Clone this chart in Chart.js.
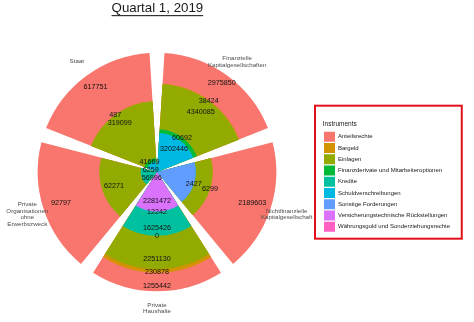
<!DOCTYPE html>
<html lang="de">
<head>
<meta charset="UTF-8">
<title>Quartal 1, 2019</title>
<script src="https://cdn.jsdelivr.net/npm/chart.js"></script>
<style>
  html, body { margin: 0; padding: 0; background: #fff; overflow: hidden; }
  /* Zeichenfläche etwas breiter, damit der Kreis links von der Legende sitzt */
  #chart { display: block; margin-left: -8px; }
</style>
</head>
<body>
<canvas id="chart" width="482" height="322"></canvas>
<script>
const titel = "Quartal 1, 2019";

const instrumente = [
  "Anteilsrechte",
  "Bargeld",
  "Einlagen",
  "Finanzderivate und Mitarbeiteroptionen",
  "Kredite",
  "Schuldverschreibungen",
  "Sonstige Forderungen",
  "Versicherungstechnische Rückstellungen",
  "Währungsgold und Sonderziehungsrechte"
];
const farben = ["#F8766D", "#D39200", "#93AA00", "#00BA38", "#00C19F", "#00B9E3", "#619CFF", "#DB72FB", "#FF61C3"];

// Sektoren im Uhrzeigersinn ab 12 Uhr
const sektoren = [
  ["Finanzielle", "Kapitalgesellschaften"],
  ["Nichtfinanzielle", "Kapitalgesellschaft"],
  ["Private", "Haushalte"],
  ["Private", "Organisationen", "ohne", "Erwerbszweck"],
  ["Staat"]
];

// beschriftete Beträge je Instrument (Reihenfolge wie instrumente), null = kein Eintrag
const finanzielle      = [2975850, 38424, 4340085, 60692, null, 3202446, null, null, null];
const nichtfinanzielle = [2189603, 6299, null, null, null, 2427, null, null, null];
const haushalte        = [1255442, 230878, 2251130, 0, 1625426, 12242, null, 2281472, null];
const organisationen   = [92797, null, 62271, null, null, null, null, null, null];
const staat            = [617751, 487, 319099, 41669, 6259, 56996, null, null, null];

// Beträge ohne eigene Zahl (geschätzt)
const finanzielleRest      = [0, 0, 0, 300000, 0, 0, 0, 0, 0];
const nichtfinanzielleRest = [0, 0, 583000, 0, 0, 0, 1138000, 0, 0];
const haushalteRest        = [0, 0, 0, 0, 0, 0, 0, 0, 0];
const organisationenRest   = [0, 0, 0, 0, 16000, 0, 0, 0, 0];
const staatRest            = [0, 0, 407000, 0, 0, 0, 0, 0, 0];

const werteJeSektor = [finanzielle, nichtfinanzielle, haushalte, organisationen, staat];
const restJeSektor = [finanzielleRest, nichtfinanzielleRest, haushalteRest, organisationenRest, staatRest];

// Zahl sitzt bei 70 % der Ringdicke (von innen)
const textLage = 0.7;

// Anteile stapeln (wie position = "fill"), innen beginnend mit dem letzten Instrument
function stapel(werte, rest) {
  const summe = werte.reduce((s, v, j) => s + (v || 0) + rest[j], 0);
  const oben = instrumente.map(() => null);
  const text = instrumente.map(() => null);
  let kum = 0;
  for (let j = instrumente.length - 1; j >= 0; j--) {
    const a = (werte[j] || 0) / summe;
    const b = rest[j] / summe;
    const start = kum + b;
    kum += a + b;
    if (a + b > 0) oben[j] = kum;
    if (werte[j] !== null) text[j] = start + a * textLage;
  }
  return { oben, text };
}
const stapelJeSektor = werteJeSektor.map((w, i) => stapel(w, restJeSektor[i]));

// jeder Sektor bekommt eine Lücke danach (Balkenbreite 0.9)
const sektorWinkel = 64.8, lueckenWinkel = 7.2;

const datasets = instrumente.map((name, j) => ({
  label: name,
  data: stapelJeSektor.flatMap(s => [s.oben[j], null]),
  backgroundColor: farben[j],
  borderWidth: 0,
  angle: ctx => ctx.dataIndex % 2 === 0 ? sektorWinkel : lueckenWinkel,
  order: -j
}));

const schrift = '"Liberation Sans", Arial, sans-serif';
Chart.defaults.font.family = schrift;

const beschriftung = {
  id: 'beschriftung',
  afterDatasetsDraw(chart) {
    const ctx = chart.ctx;
    const scale = chart.scales.r;
    const boegen = chart.getDatasetMeta(0).data;
    const platziert = [];
    const zeile = 8;
    ctx.save();
    ctx.textAlign = 'center';
    ctx.textBaseline = 'middle';
    stapelJeSektor.forEach((s, i) => {
      const arc = boegen[2 * i];
      const winkel = (arc.startAngle + arc.endAngle) / 2;
      const cos = Math.cos(winkel), sin = Math.sin(winkel);

      // Zahlen im Ring, bei Überlappung eine Zeile weiter
      ctx.font = '7.2px ' + schrift;
      ctx.fillStyle = '#111';
      s.text.forEach((m, j) => {
        if (m === null) return;
        const text = String(werteJeSektor[i][j]);
        const r = scale.getDistanceFromCenterForValue(m);
        const x = scale.xCenter + cos * r;
        let y = scale.yCenter + sin * r;
        const b = ctx.measureText(text).width;
        for (let n = 0; n < 20; n++) {
          const p = platziert.find(q => Math.abs(q.x - x) < (q.b + b) / 2 && Math.abs(q.y - y) < zeile - 0.5);
          if (!p) break;
          y = y < p.y ? p.y - zeile : p.y + zeile;
        }
        platziert.push({ x, y, b });
        ctx.fillText(text, x, y);
      });

      // Sektorname außen
      ctx.font = '6.2px ' + schrift;
      ctx.fillStyle = '#4d4d4d';
      const r = scale.getDistanceFromCenterForValue(1.15);
      const zeilen = sektoren[i];
      const hoehe = 6.5;
      const x0 = scale.xCenter + cos * r;
      const y0 = scale.yCenter + sin * r - (zeilen.length - 1) * hoehe / 2;
      zeilen.forEach((z, k) => ctx.fillText(z, x0, y0 + k * hoehe));
    });
    ctx.restore();
  },
  afterDraw(chart) {
    const ctx = chart.ctx;
    ctx.save();
    // Unterstreichung des Titels
    const t = chart.titleBlock;
    ctx.font = '13.3px ' + schrift;
    const w = ctx.measureText(titel).width;
    const cx = (t.left + t.right) / 2;
    ctx.fillStyle = '#333';
    ctx.fillRect(cx - w / 2, t.top + 15, w, 1.2);

    // roter Rahmen um die Legende
    const lg = chart.legend;
    const hb = lg.legendHitBoxes;
    const letzte = hb[hb.length - 1];
    const x0 = hb[0].left - 9;
    const y0 = hb[0].top - 26;
    ctx.strokeStyle = '#e3101b';
    ctx.lineWidth = 2;
    ctx.strokeRect(x0, y0, lg.right + 3 - x0, letzte.top + letzte.height + 7 - y0);
    ctx.restore();
  }
};

new Chart(document.getElementById('chart'), {
  type: 'polarArea',
  data: {
    labels: sektoren.flatMap(s => [s.join(' '), '']),
    datasets: datasets
  },
  options: {
    responsive: false,
    animation: false,
    events: [],
    layout: { padding: { left: 0, right: 15.25, top: 0, bottom: 23.3 } },
    scales: {
      r: {
        min: -0.05,
        max: 1.05,
        startAngle: lueckenWinkel / 2,
        grid: { display: false },
        angleLines: { display: false },
        ticks: { display: false },
        pointLabels: { display: false }
      }
    },
    plugins: {
      tooltip: { enabled: false },
      title: {
        display: true,
        text: titel,
        fullSize: false,
        color: '#1a1a1a',
        font: { size: 13.3, weight: 'normal' },
        padding: { top: 0.4, bottom: 30.5 }
      },
      legend: {
        position: 'right',
        fullSize: false,
        maxWidth: 136,
        title: {
          display: true,
          text: 'Instruments',
          position: 'start',
          color: '#1a1a1a',
          font: { size: 6.5 },
          padding: { top: 8, bottom: 2 }
        },
        labels: {
          boxWidth: 11,
          boxHeight: 10,
          padding: 1.25,
          color: '#1a1a1a',
          font: { size: 6 },
          generateLabels: chart => chart.data.datasets.map((ds, i) => ({
            text: ds.label,
            fillStyle: ds.backgroundColor,
            strokeStyle: ds.backgroundColor,
            lineWidth: 0,
            hidden: false,
            datasetIndex: i
          }))
        }
      }
    }
  },
  plugins: [beschriftung]
});
</script>
</body>
</html>
